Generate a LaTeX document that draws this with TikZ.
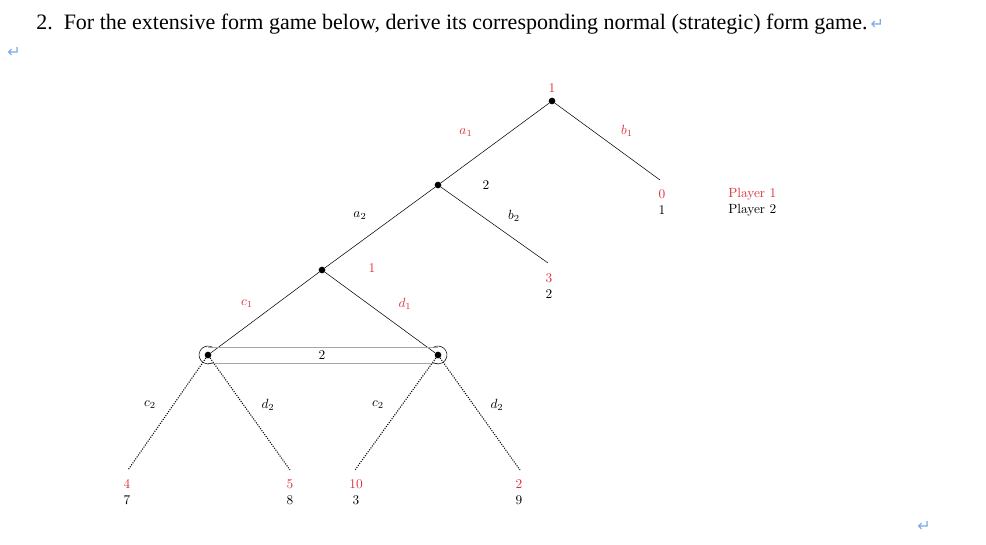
\documentclass[tikz,border=0pt]{standalone}
\usepackage{fontspec}
\newfontfamily\tnr{Liberation Serif}
\newfontfamily\dv{DejaVu Sans}
\definecolor{pred}{RGB}{220,50,60}
\definecolor{rblue}{RGB}{120,170,230}
\begin{document}
\begin{tikzpicture}[x=0.75pt,y=-0.75pt,
  dec/.style={circle,fill=black,inner sep=0pt,minimum size=5pt},
  lbl/.style={font=\normalsize,inner sep=1pt},
  rl/.style={lbl,text=pred},
  pay/.style={font=\normalsize,inner sep=0pt,align=center},
  ret/.style={text=rblue,font=\dv\large,inner sep=0pt}]
\useasboundingbox (0,0) rectangle (986,544);
\node[anchor=west,font=\tnr\fontsize{16.5}{19}\selectfont,inner sep=0pt] (q) at (36,24) {2.\ \ For the extensive form game below, derive its corresponding normal (strategic) form game.};
\node[ret,anchor=west] (r1) at (q.east) {\,↵};
\node[ret] (r2) at (14,52) {↵};
\node[ret] (r3) at (924,526) {↵};
\node[dec] (n1) at (552,101) {};
\node[dec] (n2) at (438,185) {};
\node[dec] (n3) at (322,270) {};
\node[dec] (L) at (208,355) {};
\node[dec] (R) at (438,355) {};
\coordinate (e1) at (660,180);
\coordinate (e2) at (548,263);
\coordinate (l1) at (128,470);
\coordinate (l2) at (290,470);
\coordinate (l3) at (355,470);
\coordinate (l4) at (520,470);
\draw (n1)--(n2) (n1)--(e1) (n2)--(n3) (n2)--(e2) (n3)--(L) (n3)--(R);
\draw[densely dotted,thick] (L)--(l1) (L)--(l2) (R)--(l3) (R)--(l4);
\draw[gray!70] (208,347)--(438,347) (208,363)--(438,363);
\draw (212.5,347.2) arc (-60:-300:9);
\draw (433.5,347.2) arc (-120:120:9);
\node[lbl] (t2c) at (322,355) {2};
\node[rl] (t1) at (552,88) {1};
\node[rl] (ta1) at (466,133) {$a_1$};
\node[rl] (tb1) at (627,131) {$b_1$};
\node[lbl] (t2) at (486,185) {2};
\node[lbl] (ta2) at (360,216) {$a_2$};
\node[lbl] (tb2) at (514,216) {$b_2$};
\node[rl] (t1b) at (372,268) {1};
\node[rl] (tc1) at (247,304) {$c_1$};
\node[rl] (td1) at (405,304) {$d_1$};
\node[lbl] (tc2a) at (150,405) {$c_2$};
\node[lbl] (td2a) at (268,405) {$d_2$};
\node[lbl] (tc2b) at (378,405) {$c_2$};
\node[lbl] (td2b) at (497,405) {$d_2$};
\node[pay] (p1) at (662,202) {\textcolor{pred}{0}\\1};
\node[pay] (p2) at (549,286) {\textcolor{pred}{3}\\2};
\node[pay] (p3) at (127,492) {\textcolor{pred}{4}\\7};
\node[pay] (p4) at (290,492) {\textcolor{pred}{5}\\8};
\node[pay] (p5) at (356,492) {\textcolor{pred}{10}\\3};
\node[pay] (p6) at (519,492) {\textcolor{pred}{2}\\9};
\node[pay,anchor=west,align=left] (pl) at (728,202) {\textcolor{pred}{Player 1}\\Player 2};
\end{tikzpicture}
\end{document}
